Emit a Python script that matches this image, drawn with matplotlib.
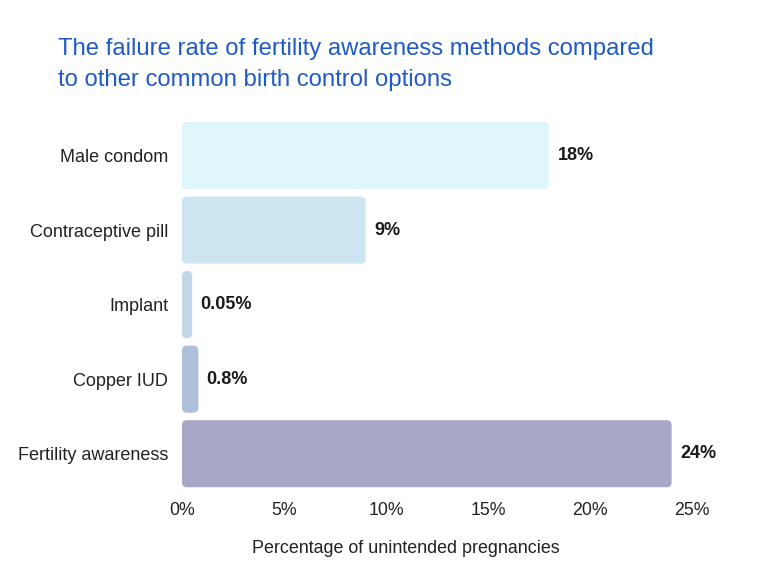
import matplotlib.pyplot as plt
from matplotlib.patches import FancyBboxPatch
from matplotlib.ticker import FuncFormatter
import numpy as np

# ── Data ───────────────────────────────────────────────────────────────────────
methods = ["Male condom", "Contraceptive pill", "Implant", "Copper IUD", "Fertility awareness"]
failure_pct = [18, 9, 0.05, 0.8, 24]
value_labels = ["18%", "9%", "0.05%", "0.8%", "24%"]
bar_colors = ["#dff6fa", "#cde5f0", "#bfd7e8", "#aebfda", "#a7a7c8"]
x_ticks = [0, 5, 10, 15, 20, 25]

TITLE = "The failure rate of fertility awareness methods compared\nto other common birth control options"
XLABEL = "Percentage of unintended pregnancies"

# tiny values still get a visible sliver, like the original graphic
MIN_BAR = 0.5

plt.rcParams.update({
    "font.family": ["Liberation Sans", "DejaVu Sans"],
})

fig = plt.figure(figsize=(7.68, 5.76), dpi=100)
ax = fig.add_axes([0.237, 0.1476, 0.664, 0.647])

y = np.arange(len(methods))
draw_vals = np.maximum(failure_pct, MIN_BAR)
bars = ax.barh(y, draw_vals, height=0.9, color=bar_colors)

ax.set_xlim(0, 25)
ax.set_ylim(len(methods) - 0.5, -0.5)

# swap plain rectangles for rounded ones
x_per_px = 25 / (0.664 * 768)
y_per_px = len(methods) / (0.647 * 576)
for bar in bars:
    x0, y0 = bar.get_x(), bar.get_y()
    w, h = bar.get_width(), bar.get_height()
    bar.set_visible(False)
    ax.add_patch(FancyBboxPatch((x0, y0), w, h,
                                boxstyle=f"round,pad=0,rounding_size={5 * x_per_px}",
                                mutation_aspect=y_per_px / x_per_px,
                                facecolor=bar.get_facecolor(), edgecolor="none"))

for yi, v, lbl in zip(y, draw_vals, value_labels):
    ax.annotate(lbl, (v, yi), xytext=(6, 0), textcoords="offset points",
                va="center", ha="left", fontsize=13, fontweight="bold", color="#1a1a1a")

ax.set_yticks(y)
ax.set_yticklabels(methods, fontsize=13, color="#222222")
ax.set_xticks(x_ticks)
ax.xaxis.set_major_formatter(FuncFormatter(lambda v, _: f"{v:.0f}%"))
ax.tick_params(axis="x", labelsize=12.8, colors="#222222", length=0, pad=8)
ax.tick_params(axis="y", length=0, pad=10)
for s in ax.spines.values():
    s.set_visible(False)

ax.set_xlabel(XLABEL, fontsize=12.9, color="#222222", labelpad=15,
              x=(406 - 182) / (0.664 * 768))

fig.text(58 / 768, 1 - 38 / 576, TITLE, fontsize=17.2, color="#1f5bc6",
         ha="left", va="top", linespacing=1.55)

fig.savefig("out.png", dpi=100, facecolor="white")
